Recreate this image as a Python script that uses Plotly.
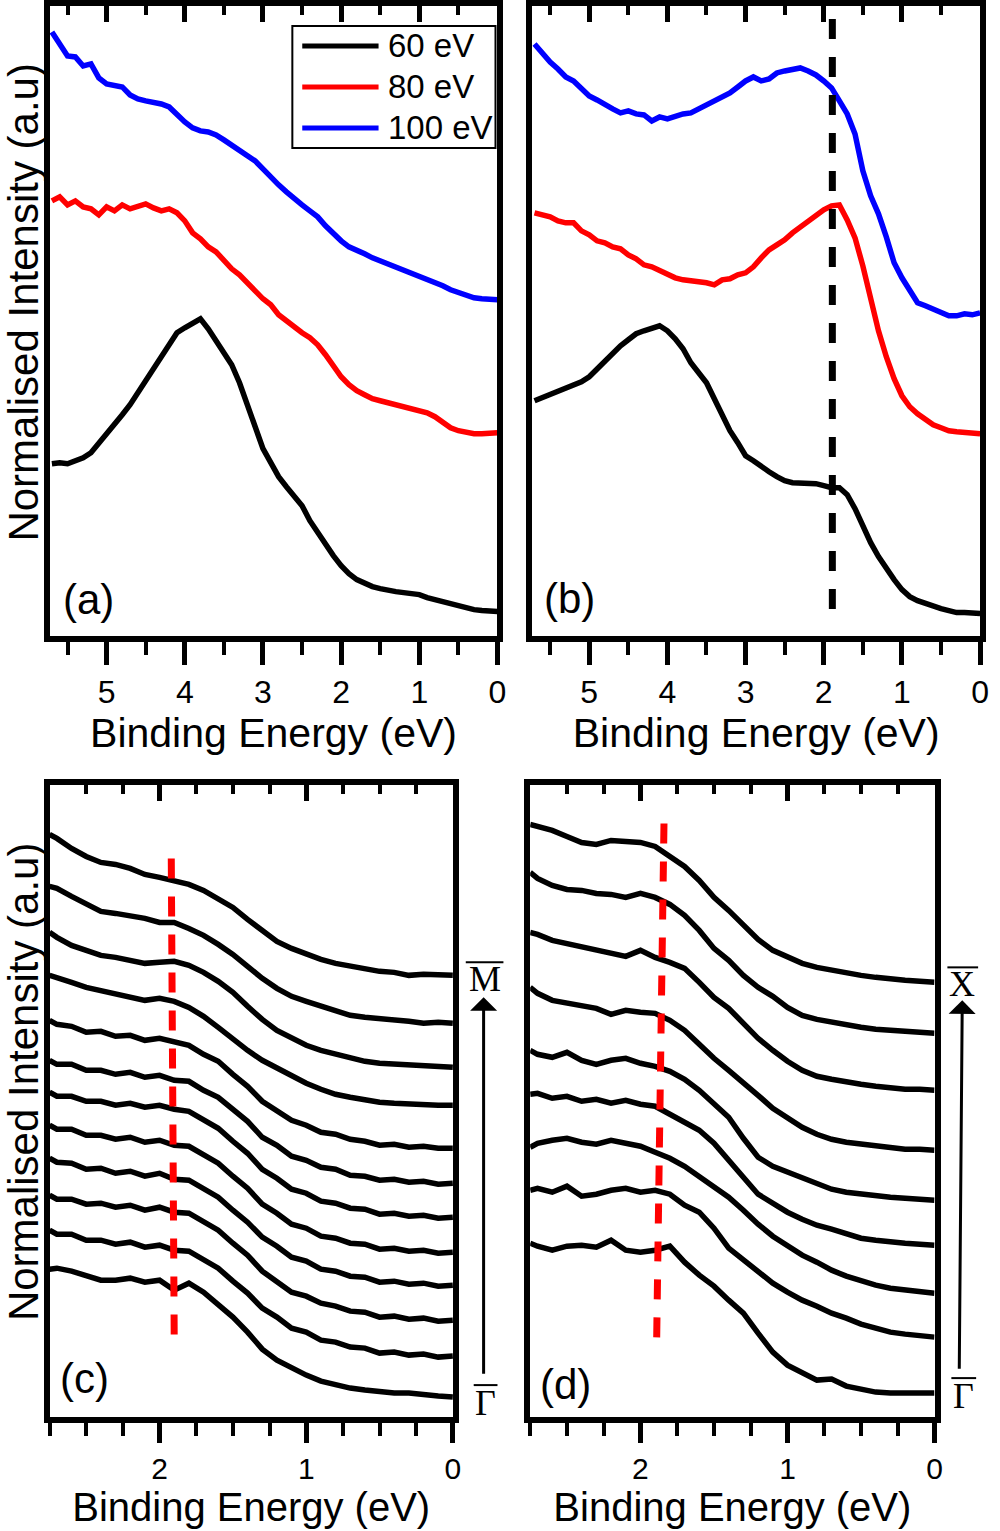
import plotly.graph_objects as go

W, H = 1000, 1531

# ---------------- data ----------------
be_top = [5.7, 5.6, 5.5, 5.4, 5.3, 5.2, 5.1, 5.0, 4.9, 4.8, 4.7, 4.6, 4.5, 4.4, 4.3, 4.2, 4.1, 4.0, 3.9, 3.8,
          3.7, 3.6, 3.5, 3.4, 3.3, 3.2, 3.1, 3.0, 2.9, 2.8, 2.7, 2.6, 2.5, 2.4, 2.3, 2.2, 2.1, 2.0, 1.9, 1.8,
          1.7, 1.6, 1.5, 1.4, 1.3, 1.2, 1.1, 1.0, 0.9, 0.8, 0.7, 0.6, 0.5, 0.4, 0.3, 0.2, 0.1, 0.0]

a_60eV = [1.72, 1.73, 1.72, 1.75, 1.78, 1.83, 1.92, 2.03, 2.11, 2.21,
          2.31, 2.43, 2.55, 2.67, 2.80, 2.91, 3.03, 3.08, 3.13, 3.17,
          3.07, 2.95, 2.85, 2.71, 2.53, 2.31, 2.05, 1.87, 1.73, 1.59,
          1.49, 1.39, 1.30, 1.15, 1.03, 0.90, 0.80, 0.70, 0.62, 0.56,
          0.52, 0.49, 0.47, 0.45, 0.44, 0.43, 0.42, 0.41, 0.38, 0.36,
          0.33, 0.31, 0.29, 0.27, 0.26, 0.25, 0.25, 0.24]
a_80eV = [4.35, 4.39, 4.31, 4.35, 4.29, 4.27, 4.21, 4.29, 4.25, 4.31,
          4.27, 4.30, 4.32, 4.28, 4.25, 4.27, 4.23, 4.15, 4.03, 3.97,
          3.89, 3.84, 3.76, 3.67, 3.61, 3.52, 3.45, 3.37, 3.31, 3.21,
          3.15, 3.08, 3.03, 2.98, 2.91, 2.81, 2.69, 2.59, 2.51, 2.45,
          2.41, 2.37, 2.35, 2.33, 2.32, 2.29, 2.27, 2.25, 2.23, 2.19,
          2.13, 2.08, 2.05, 2.03, 2.02, 2.02, 2.02, 2.03]
a_100eV = [6.04, 5.93, 5.80, 5.79, 5.70, 5.72, 5.58, 5.52, 5.51, 5.49,
           5.41, 5.37, 5.35, 5.34, 5.32, 5.29, 5.21, 5.14, 5.08, 5.05,
           5.04, 5.01, 4.96, 4.91, 4.86, 4.81, 4.75, 4.67, 4.58, 4.51,
           4.44, 4.37, 4.31, 4.25, 4.19, 4.10, 4.02, 3.95, 3.89, 3.86,
           3.82, 3.78, 3.75, 3.72, 3.69, 3.65, 3.63, 3.60, 3.57, 3.53,
           3.50, 3.46, 3.43, 3.40, 3.38, 3.37, 3.36, 3.36]

b_60eV = [2.35, 2.38, 2.41, 2.44, 2.47, 2.50, 2.54, 2.59, 2.67, 2.75,
          2.83, 2.90, 2.96, 3.02, 3.05, 3.07, 3.10, 3.05, 2.97, 2.87,
          2.73, 2.63, 2.53, 2.37, 2.21, 2.05, 1.93, 1.80, 1.75, 1.69,
          1.64, 1.59, 1.55, 1.53, 1.53, 1.52, 1.52, 1.50, 1.48, 1.48,
          1.41, 1.27, 1.09, 0.93, 0.79, 0.67, 0.56, 0.46, 0.39, 0.35,
          0.32, 0.29, 0.27, 0.25, 0.23, 0.23, 0.22, 0.22]
b_80eV = [4.23, 4.21, 4.19, 4.15, 4.13, 4.13, 4.05, 4.01, 3.95, 3.93,
          3.89, 3.87, 3.81, 3.77, 3.71, 3.69, 3.65, 3.62, 3.58, 3.56,
          3.55, 3.55, 3.53, 3.51, 3.56, 3.57, 3.61, 3.63, 3.69, 3.78,
          3.86, 3.91, 3.96, 4.03, 4.09, 4.15, 4.21, 4.26, 4.30, 4.31,
          4.16, 3.98, 3.70, 3.35, 3.05, 2.79, 2.57, 2.40, 2.29, 2.22,
          2.16, 2.11, 2.08, 2.05, 2.04, 2.03, 2.02, 2.02]
b_100eV = [5.92, 5.82, 5.74, 5.67, 5.59, 5.55, 5.47, 5.40, 5.36, 5.31,
           5.27, 5.23, 5.25, 5.22, 5.21, 5.15, 5.19, 5.17, 5.20, 5.22,
           5.23, 5.27, 5.31, 5.34, 5.38, 5.43, 5.49, 5.55, 5.59, 5.55,
           5.57, 5.63, 5.65, 5.67, 5.68, 5.65, 5.61, 5.55, 5.48, 5.35,
           5.22, 5.02, 4.65, 4.40, 4.22, 3.99, 3.73, 3.58, 3.45, 3.33,
           3.30, 3.27, 3.23, 3.20, 3.20, 3.22, 3.21, 3.23]

# reference line in (b) (binding energy, intensity)
b_ref_be = [1.89, 1.89]
b_ref_y = [6.17, 0.22]

be_bot = [2.75, 2.7, 2.6, 2.5, 2.4, 2.3, 2.2, 2.1, 2.0, 1.9, 1.8, 1.7, 1.6, 1.5, 1.4,
          1.3, 1.2, 1.1, 1.0, 0.9, 0.8, 0.7, 0.6, 0.5, 0.4, 0.3, 0.2, 0.1, 0.0]

# panel (c): Gamma -> M cuts (top = M, bottom = Gamma)
c01 = [5.83, 5.79, 5.69, 5.61, 5.55, 5.53, 5.49, 5.43, 5.40, 5.37, 5.33, 5.27, 5.19, 5.10, 4.98,
       4.87, 4.76, 4.69, 4.63, 4.58, 4.54, 4.51, 4.48, 4.46, 4.45, 4.42, 4.43, 4.42, 4.42]
c02 = [5.31, 5.29, 5.21, 5.13, 5.06, 5.04, 5.02, 4.99, 4.95, 4.95, 4.89, 4.82, 4.73, 4.63, 4.51,
       4.39, 4.29, 4.21, 4.16, 4.11, 4.06, 4.02, 4.00, 3.99, 3.97, 3.96, 3.94, 3.95, 3.94]
c03 = [4.85, 4.80, 4.72, 4.67, 4.62, 4.60, 4.57, 4.54, 4.55, 4.56, 4.52, 4.45, 4.36, 4.25, 4.11,
       3.98, 3.87, 3.79, 3.72, 3.67, 3.63, 3.60, 3.56, 3.54, 3.53, 3.52, 3.51, 3.50, 3.50]
c04 = [4.42, 4.40, 4.35, 4.30, 4.27, 4.24, 4.20, 4.17, 4.19, 4.16, 4.10, 4.01, 3.90, 3.78, 3.67,
       3.57, 3.49, 3.41, 3.34, 3.28, 3.23, 3.20, 3.17, 3.15, 3.14, 3.13, 3.12, 3.12, 3.12]
c05 = [3.97, 3.93, 3.91, 3.85, 3.86, 3.81, 3.82, 3.77, 3.79, 3.75, 3.72, 3.63, 3.56, 3.43, 3.31,
       3.16, 3.07, 2.97, 2.92, 2.85, 2.83, 2.78, 2.76, 2.72, 2.73, 2.70, 2.71, 2.69, 2.69]
c06 = [3.57, 3.53, 3.53, 3.47, 3.47, 3.43, 3.45, 3.40, 3.42, 3.37, 3.36, 3.27, 3.20, 3.08, 2.96,
       2.80, 2.72, 2.61, 2.57, 2.50, 2.48, 2.42, 2.41, 2.37, 2.38, 2.35, 2.36, 2.33, 2.34]
c07 = [3.25, 3.21, 3.21, 3.16, 3.16, 3.12, 3.14, 3.10, 3.12, 3.08, 3.06, 2.97, 2.89, 2.76, 2.64,
       2.48, 2.39, 2.28, 2.24, 2.16, 2.14, 2.09, 2.08, 2.03, 2.04, 2.01, 2.02, 1.99, 2.00]
c08 = [2.92, 2.88, 2.88, 2.82, 2.82, 2.78, 2.80, 2.75, 2.77, 2.72, 2.71, 2.62, 2.54, 2.41, 2.29,
       2.13, 2.04, 1.93, 1.89, 1.81, 1.79, 1.74, 1.73, 1.68, 1.69, 1.66, 1.67, 1.64, 1.65]
c09 = [2.59, 2.55, 2.54, 2.48, 2.49, 2.44, 2.46, 2.41, 2.44, 2.38, 2.37, 2.28, 2.20, 2.07, 1.95,
       1.80, 1.71, 1.60, 1.56, 1.48, 1.46, 1.41, 1.40, 1.35, 1.36, 1.33, 1.34, 1.31, 1.32]
c10 = [2.22, 2.18, 2.18, 2.13, 2.14, 2.10, 2.12, 2.07, 2.10, 2.05, 2.04, 1.95, 1.87, 1.74, 1.62,
       1.46, 1.36, 1.25, 1.21, 1.14, 1.11, 1.06, 1.05, 1.00, 1.01, 0.98, 0.99, 0.96, 0.97]
c11 = [1.87, 1.83, 1.83, 1.77, 1.77, 1.73, 1.75, 1.70, 1.72, 1.67, 1.66, 1.57, 1.49, 1.36, 1.24,
       1.09, 1.00, 0.89, 0.85, 0.77, 0.75, 0.70, 0.69, 0.64, 0.65, 0.62, 0.63, 0.60, 0.61]
c12 = [1.48, 1.49, 1.46, 1.41, 1.37, 1.37, 1.39, 1.35, 1.37, 1.27, 1.34, 1.25, 1.12, 1.00, 0.85,
       0.68, 0.57, 0.49, 0.42, 0.36, 0.32, 0.29, 0.27, 0.25, 0.24, 0.24, 0.22, 0.21, 0.20]

# panel (d): Gamma -> X cuts (top = X, bottom = Gamma)
d01 = [5.93, 5.91, 5.87, 5.81, 5.75, 5.73, 5.77, 5.76, 5.75, 5.71, 5.61, 5.51, 5.37, 5.20, 5.07,
       4.92, 4.78, 4.67, 4.60, 4.54, 4.50, 4.47, 4.44, 4.42, 4.40, 4.38, 4.37, 4.36, 4.35]
d02 = [5.45, 5.39, 5.32, 5.28, 5.27, 5.24, 5.23, 5.20, 5.24, 5.20, 5.13, 5.02, 4.87, 4.69, 4.57,
       4.42, 4.30, 4.21, 4.10, 4.02, 3.98, 3.95, 3.92, 3.90, 3.88, 3.87, 3.86, 3.85, 3.84]
d03 = [4.85, 4.83, 4.77, 4.74, 4.71, 4.67, 4.64, 4.61, 4.67, 4.60, 4.55, 4.49, 4.35, 4.20, 4.09,
       3.94, 3.79, 3.67, 3.56, 3.47, 3.41, 3.38, 3.35, 3.33, 3.31, 3.29, 3.28, 3.28, 3.27]
d04 = [4.30, 4.24, 4.17, 4.14, 4.12, 4.09, 4.03, 4.07, 4.05, 4.04, 3.97, 3.87, 3.73, 3.59, 3.47,
       3.35, 3.22, 3.09, 2.99, 2.90, 2.83, 2.78, 2.75, 2.73, 2.71, 2.69, 2.68, 2.68, 2.67]
d05 = [3.67, 3.63, 3.60, 3.65, 3.57, 3.53, 3.57, 3.59, 3.54, 3.51, 3.46, 3.38, 3.27, 3.13, 3.00,
       2.79, 2.60, 2.51, 2.45, 2.39, 2.33, 2.28, 2.25, 2.23, 2.21, 2.20, 2.19, 2.18, 2.17]
d06 = [3.23, 3.24, 3.19, 3.21, 3.16, 3.18, 3.14, 3.17, 3.13, 3.11, 3.03, 2.95, 2.87, 2.74, 2.56,
       2.40, 2.23, 2.14, 2.05, 1.98, 1.92, 1.88, 1.84, 1.79, 1.77, 1.75, 1.74, 1.73, 1.72]
d07 = [2.70, 2.74, 2.77, 2.79, 2.75, 2.73, 2.77, 2.74, 2.71, 2.65, 2.59, 2.51, 2.41, 2.31, 2.20,
       2.07, 1.93, 1.81, 1.71, 1.62, 1.55, 1.47, 1.41, 1.36, 1.32, 1.29, 1.27, 1.25, 1.24]
d08 = [2.27, 2.29, 2.25, 2.31, 2.21, 2.23, 2.27, 2.29, 2.25, 2.27, 2.23, 2.12, 2.05, 1.89, 1.69,
       1.57, 1.46, 1.34, 1.25, 1.17, 1.11, 1.04, 0.99, 0.93, 0.89, 0.85, 0.83, 0.81, 0.80]
d09 = [1.74, 1.71, 1.67, 1.71, 1.72, 1.70, 1.77, 1.67, 1.65, 1.67, 1.71, 1.55, 1.42, 1.31, 1.17,
       1.04, 0.84, 0.65, 0.52, 0.45, 0.37, 0.38, 0.31, 0.28, 0.25, 0.24, 0.24, 0.24, 0.24]

c_ref_be = [1.92, 1.90]
c_ref_y = [5.59, 0.79]
d_ref_be = [1.84, 1.89]
d_ref_y = [5.94, 0.75]

legend_names = ["60 eV", "80 eV", "100 eV"]
legend_colors = ["#000000", "#FF0000", "#0000FF"]
x_ticks_top = [5, 4, 3, 2, 1, 0]
x_ticks_bot = [2, 1, 0]

# ---------------- figure ----------------
FONT = "Liberation Sans, Arial, sans-serif"
SERIF = "Liberation Serif, Times New Roman, serif"


def fx(p):
    return p / W


def fy(p):
    return 1 - p / H


fig = go.Figure()

LW = 5.5
for vals, col, name in zip([a_60eV, a_80eV, a_100eV], legend_colors, legend_names):
    fig.add_trace(go.Scatter(x=be_top, y=vals, mode="lines", name=name,
                             line=dict(color=col, width=LW), xaxis="x", yaxis="y", showlegend=False))
for vals, col, name in zip([b_60eV, b_80eV, b_100eV], legend_colors, legend_names):
    fig.add_trace(go.Scatter(x=be_top, y=vals, mode="lines", name=name,
                             line=dict(color=col, width=LW), xaxis="x2", yaxis="y2", showlegend=False))
fig.add_trace(go.Scatter(x=b_ref_be, y=b_ref_y, mode="lines",
                         line=dict(color="black", width=7, dash="20px,18px"),
                         xaxis="x2", yaxis="y2", showlegend=False))

for i, vals in enumerate([c01, c02, c03, c04, c05, c06, c07, c08, c09, c10, c11, c12]):
    fig.add_trace(go.Scatter(x=be_bot, y=vals, mode="lines", name=f"cut {i+1}",
                             line=dict(color="black", width=LW), xaxis="x3", yaxis="y3", showlegend=False))
fig.add_trace(go.Scatter(x=c_ref_be, y=c_ref_y, mode="lines",
                         line=dict(color="#FF0000", width=7, dash="20px,18px"),
                         xaxis="x3", yaxis="y3", showlegend=False))

for i, vals in enumerate([d01, d02, d03, d04, d05, d06, d07, d08, d09]):
    fig.add_trace(go.Scatter(x=be_bot, y=vals, mode="lines", name=f"cut {i+1}",
                             line=dict(color="black", width=LW), xaxis="x4", yaxis="y4", showlegend=False))
fig.add_trace(go.Scatter(x=d_ref_be, y=d_ref_y, mode="lines",
                         line=dict(color="#FF0000", width=7, dash="20px,18px"),
                         xaxis="x4", yaxis="y4", showlegend=False))

panels = {
    "a": dict(xs=(50, 502), ys=(5, 635), xr=[5.73, 0], yr=[0, 6.30], minor=0.5, ticks=x_ticks_top,
              tl=23, tf=32, tfs=41, so=6),
    "b": dict(xs=(537, 989), ys=(5, 635), xr=[5.73, 0], yr=[0, 6.30], minor=0.5, ticks=x_ticks_top,
              tl=23, tf=32, tfs=41, so=6),
    "c": dict(xs=(50, 457), ys=(785, 1417), xr=[2.75, 0], yr=[0, 6.32], minor=0.25, ticks=x_ticks_bot,
              tl=20, tf=30, tfs=40, so=8),
    "d": dict(xs=(535, 943), ys=(785, 1417), xr=[2.75, 0], yr=[0, 6.32], minor=0.25, ticks=x_ticks_bot,
              tl=20, tf=30, tfs=40, so=8),
}

layout = dict(width=W, height=H, margin=dict(l=0, r=0, t=0, b=0),
              paper_bgcolor="white", plot_bgcolor="white", showlegend=False,
              font=dict(family=FONT, color="black"))

for k, (key, p) in enumerate(panels.items(), start=1):
    xn = "xaxis" if k == 1 else f"xaxis{k}"
    yn = "yaxis" if k == 1 else f"yaxis{k}"
    xid = "x" if k == 1 else f"x{k}"
    yid = "y" if k == 1 else f"y{k}"
    layout[xn] = dict(
        domain=[fx(p["xs"][0]), fx(p["xs"][1])], range=p["xr"], anchor=yid,
        showline=True, linewidth=6, linecolor="black", mirror=True,
        showgrid=False, zeroline=False,
        tickmode="array", tickvals=p["ticks"], ticktext=[str(t) for t in p["ticks"]],
        ticks="outside", ticklen=p["tl"], tickwidth=5, tickcolor="black",
        tickfont=dict(family=FONT, size=p["tf"], color="black"),
        minor=dict(ticks="outside", ticklen=13, tickwidth=4, tickcolor="black",
                   tickmode="linear", tick0=0, dtick=p["minor"], showgrid=False),
        title=dict(text="Binding Energy (eV)", font=dict(family=FONT, size=p["tfs"], color="black"),
                   standoff=p["so"]),
    )
    layout[yn] = dict(
        domain=[fy(p["ys"][1]), fy(p["ys"][0])], range=p["yr"], anchor=xid,
        showline=True, linewidth=6, linecolor="black", mirror=True,
        showgrid=False, zeroline=False, ticks="", showticklabels=False,
    )
    # top axis with inward ticks
    tn = f"xaxis{k+4}"
    layout[tn] = dict(
        overlaying=xid, side="top", anchor=yid, range=p["xr"],
        showline=False, showgrid=False, zeroline=False, showticklabels=False,
        tickmode="array", tickvals=p["ticks"],
        ticks="inside", ticklen=16, tickwidth=5, tickcolor="black",
        minor=dict(ticks="inside", ticklen=9, tickwidth=4, tickcolor="black",
                   tickmode="linear", tick0=0, dtick=p["minor"], showgrid=False),
    )

# dummy traces to activate top axes
for k in range(5, 9):
    fig.add_trace(go.Scatter(x=[None], y=[None], xaxis=f"x{k}", yaxis=("y" if k == 5 else f"y{k-4}"),
                             showlegend=False, hoverinfo="skip"))

fig.update_layout(**layout)

annotations = []
shapes = []

# y-axis titles (left panels)
for yc in (301, 1081):
    annotations.append(dict(text="Normalised Intensity (a.u)", x=fx(24), y=fy(yc), xref="paper", yref="paper",
                            xanchor="center", yanchor="middle", showarrow=False, textangle=-90,
                            font=dict(family=FONT, size=42, color="black")))

# panel labels
for txt, (x, y) in zip(["(a)", "(b)", "(c)", "(d)"], [(89, 599), (575, 598), (85, 1378), (571, 1384)]):
    annotations.append(dict(text=txt, x=fx(x), y=fy(y), xref="paper", yref="paper",
                            xanchor="center", yanchor="middle", showarrow=False,
                            font=dict(family=FONT, size=42, color="black")))

# legend (panel a)
shapes.append(dict(type="rect", xref="paper", yref="paper", x0=fx(295), x1=fx(500), y0=fy(147), y1=fy(25),
                   line=dict(color="black", width=2), fillcolor="white", layer="above"))
for name, col, yy in zip(legend_names, legend_colors, [45, 86, 127]):
    shapes.append(dict(type="line", xref="paper", yref="paper", x0=fx(305), x1=fx(382), y0=fy(yy), y1=fy(yy),
                       line=dict(color=col, width=5), layer="above"))
    annotations.append(dict(text=name, x=fx(390), y=fy(yy), xref="paper", yref="paper",
                            xanchor="left", yanchor="middle", showarrow=False,
                            font=dict(family=FONT, size=33, color="black")))

# high-symmetry point labels with overlines
for txt, (x, y), (ox0, ox1, oy) in [
        ("M", (489, 979), (470, 508, 962)),
        ("Γ", (490, 1403), (478, 502, 1385)),
        ("X", (971, 984), (956, 987, 967)),
        ("Γ", (972, 1396), (960, 985, 1378))]:
    annotations.append(dict(text=txt, x=fx(x), y=fy(y), xref="paper", yref="paper",
                            xanchor="center", yanchor="middle", showarrow=False,
                            font=dict(family=SERIF, size=36, color="black")))
    shapes.append(dict(type="line", xref="paper", yref="paper", x0=fx(ox0), x1=fx(ox1), y0=fy(oy), y1=fy(oy),
                       line=dict(color="black", width=2)))

# arrows Gamma -> M and Gamma -> X
annotations.append(dict(text="", x=fx(488), y=fy(997), xref="paper", yref="paper", showarrow=True,
                        ax=0, ay=378, arrowhead=1, arrowsize=1.5, arrowwidth=3, arrowcolor="black"))
annotations.append(dict(text="", x=fx(971), y=fy(1000), xref="paper", yref="paper", showarrow=True,
                        ax=-3, ay=370, arrowhead=1, arrowsize=1.5, arrowwidth=3, arrowcolor="black"))

fig.update_layout(annotations=annotations, shapes=shapes)

fig.write_html("out.html")
